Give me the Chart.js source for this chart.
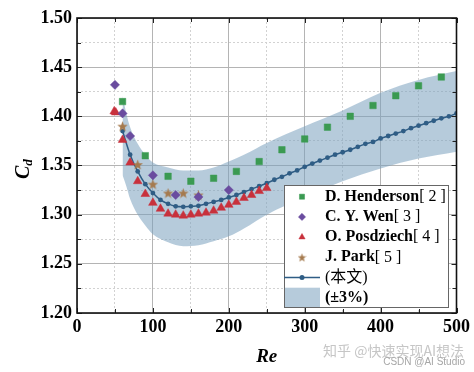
<!DOCTYPE html>
<html>
<head>
<meta charset="utf-8">
<script src="https://cdn.jsdelivr.net/npm/chart.js@4.4.1/dist/chart.umd.min.js"></script>
<style>
  html, body { margin: 0; padding: 0; background: #fff; }
</style>
</head>
<body>
<canvas id="cdChart" width="474" height="372"></canvas>
<script>
// D. Henderson [2]
const hendersonRe = [60, 90, 120, 150, 180, 210, 240, 270, 300, 330, 360, 390, 420, 450, 480];
const hendersonCd = [1.415, 1.360, 1.339, 1.334, 1.337, 1.344, 1.354, 1.366, 1.377, 1.389, 1.400, 1.411, 1.421, 1.431, 1.440];

// C. Y. Wen [3]
const wenRe = [50, 60, 70, 100, 130, 160, 200];
const wenCd = [1.432, 1.403, 1.380, 1.340, 1.320, 1.318, 1.325];

// O. Posdziech [4]
const posdziechRe = [49, 51, 60, 70, 80, 90, 100, 110, 120, 130, 140, 150, 160, 170, 180, 190, 200, 210, 220, 230, 240, 250];
const posdziechCd = [1.405, 1.404, 1.376, 1.353, 1.334, 1.321, 1.312, 1.306, 1.301, 1.300, 1.299, 1.300, 1.301, 1.302, 1.304, 1.307, 1.310, 1.313, 1.317, 1.320, 1.324, 1.327];

// J. Park [5]
const parkRe = [60, 80, 100, 120, 140, 160];
const parkCd = [1.390, 1.351, 1.331, 1.322, 1.322, 1.320];

// present work (本文)
const workRe = [60, 70, 80, 90, 100, 110, 120, 130, 140, 150, 160, 170, 180, 190, 200, 210, 220, 230, 240, 250,
                260, 270, 280, 290, 300, 310, 320, 330, 340, 350, 360, 370, 380, 390, 400, 410, 420, 430, 440, 450,
                460, 470, 480, 490, 500];
const workCd = [1.385, 1.361, 1.344, 1.331, 1.322, 1.315, 1.311, 1.3085, 1.308, 1.3085, 1.309, 1.311, 1.313, 1.315, 1.3175, 1.320, 1.323, 1.326, 1.329, 1.332,
                1.3355, 1.3385, 1.342, 1.345, 1.3487, 1.352, 1.355, 1.358, 1.361, 1.3635, 1.366, 1.369, 1.372, 1.374, 1.3775, 1.380, 1.3825, 1.385, 1.388, 1.3905,
                1.393, 1.3955, 1.398, 1.400, 1.403];

// ±3% band edges
const bandRe = [60, 65, 70, 80, 90, 100, 120, 140, 160, 180, 200, 220, 250, 300, 350, 400, 450, 500];
const bandUpper = [1.421, 1.403, 1.389, 1.372, 1.361, 1.353, 1.348, 1.345, 1.345, 1.348, 1.354, 1.361, 1.373, 1.390, 1.406, 1.424, 1.437, 1.446];
const bandLower = [1.340, 1.329, 1.316, 1.300, 1.289, 1.280, 1.272, 1.268, 1.269, 1.273, 1.278, 1.286, 1.300, 1.318, 1.334, 1.347, 1.357, 1.364];

// axes
const xMin = 0, xMax = 500, xStep = 50;
const yMin = 1.20, yMax = 1.50, yStep = 0.025;

const SERIF = '"Liberation Serif", "Times New Roman", "Noto Sans CJK SC", serif';
const GREEN = '#3b9a52', PURPLE = '#6a4c9f', RED = '#c8313c', BROWN = '#a57a4e', BLUE = '#2f5d85';
const BAND = 'rgba(122, 160, 190, 0.55)';

const pts = (xs, ys) => xs.map((x, i) => ({ x: x, y: ys[i] }));

// five-point star marker (Chart.js 'star' is an asterisk)
function makeStar(size, color) {
    const c = document.createElement('canvas');
    c.width = size; c.height = size;
    const g = c.getContext('2d');
    const r = size / 2, ri = r * 0.42;
    g.fillStyle = color;
    g.beginPath();
    for (let i = 0; i < 10; i++) {
        const rad = i % 2 ? ri : r;
        const a = -Math.PI / 2 + i * Math.PI / 5;
        g.lineTo(r + rad * Math.cos(a), r + rad * Math.sin(a) + 0.5);
    }
    g.closePath();
    g.fill();
    return c;
}
const starMark = makeStar(11, BROWN);
const starSmall = makeStar(9, BROWN);

const isMajorX = v => v % 100 === 0;
const isMajorY = v => Math.round(v * 1000) % 50 === 0;

// frame, inward ticks, axis titles
const framePlugin = {
    id: 'frame',
    afterDraw(chart) {
        const { ctx, chartArea: a, scales: { x, y } } = chart;
        ctx.save();
        ctx.strokeStyle = '#222';
        ctx.lineWidth = 1;
        ctx.beginPath();
        x.ticks.forEach(t => {
            const px = Math.round(x.getPixelForValue(t.value)) + 0.5;
            const len = isMajorX(t.value) ? 5 : 4;
            ctx.moveTo(px, a.bottom); ctx.lineTo(px, a.bottom - len);
            ctx.moveTo(px, a.top); ctx.lineTo(px, a.top + len);
        });
        y.ticks.forEach(t => {
            const py = Math.round(y.getPixelForValue(t.value)) + 0.5;
            const len = isMajorY(t.value) ? 5 : 4;
            ctx.moveTo(a.left, py); ctx.lineTo(a.left + len, py);
            ctx.moveTo(a.right, py); ctx.lineTo(a.right - len, py);
        });
        ctx.stroke();

        ctx.lineWidth = 1.6;
        ctx.strokeStyle = '#111';
        ctx.strokeRect(a.left, a.top, a.right - a.left, a.bottom - a.top);

        // x title
        ctx.fillStyle = '#000';
        ctx.font = 'italic bold 19px ' + SERIF;
        ctx.textAlign = 'center';
        ctx.textBaseline = 'middle';
        ctx.fillText('Re', (a.left + a.right) / 2, 357);

        // y title C_d
        ctx.translate(29, 172);
        ctx.rotate(-Math.PI / 2);
        ctx.textAlign = 'left';
        ctx.textBaseline = 'alphabetic';
        ctx.font = 'italic bold 20px ' + SERIF;
        ctx.fillText('C', -7, 0);
        const cw = ctx.measureText('C').width;
        ctx.font = 'italic bold 13px ' + SERIF;
        ctx.fillText('d', -7 + cw, 3);
        ctx.restore();
    }
};

// legend box inside the plot
const legendItems = [
    { bold: 'D. Henderson', tail: '[ 2 ]', kind: 'point', style: 'rect', color: GREEN },
    { bold: 'C. Y. Wen', tail: '[ 3 ]', kind: 'point', style: 'rectRot', color: PURPLE },
    { bold: 'O. Posdziech', tail: '[ 4 ]', kind: 'point', style: 'triangle', color: RED },
    { bold: 'J. Park', tail: '[ 5 ]', kind: 'point', style: starSmall, color: BROWN },
    { bold: '', tail: '(本文)', kind: 'line', color: BLUE },
    { bold: '(±3%)', tail: '', kind: 'band', color: BAND }
];

const legendPlugin = {
    id: 'boxLegend',
    afterDraw(chart) {
        const ctx = chart.ctx;
        const left = 284, top = 185, right = 448, bottom = 307;
        const rowH = 20.2, firstY = 196.7, markX = 302, textX = 325;
        ctx.save();
        ctx.fillStyle = '#fff';
        ctx.fillRect(left, top, right - left, bottom - top);
        ctx.strokeStyle = '#666';
        ctx.lineWidth = 1;
        ctx.strokeRect(left + 0.5, top + 0.5, right - left, bottom - top);

        legendItems.forEach((it, i) => {
            const cy = firstY + i * rowH;
            if (it.kind === 'point') {
                ctx.fillStyle = it.color;
                ctx.strokeStyle = it.color;
                ctx.lineWidth = 0.5;
                Chart.helpers.drawPoint(ctx, { pointStyle: it.style, radius: 3.6, rotation: 0, borderWidth: 0.5 }, markX, cy);
            } else if (it.kind === 'line') {
                ctx.strokeStyle = it.color;
                ctx.lineWidth = 1.5;
                ctx.beginPath();
                ctx.moveTo(left, cy); ctx.lineTo(320, cy);
                ctx.stroke();
                ctx.fillStyle = it.color;
                ctx.beginPath();
                ctx.arc(markX, cy, 2.5, 0, Math.PI * 2);
                ctx.fill();
            } else {
                ctx.fillStyle = it.color;
                ctx.fillRect(left + 1, cy - 10, 320 - left - 1, bottom - (cy - 10));
            }
            ctx.fillStyle = '#000';
            ctx.textAlign = 'left';
            ctx.textBaseline = 'middle';
            let tx = textX;
            if (it.bold) {
                ctx.font = 'bold 16px ' + SERIF;
                ctx.fillText(it.bold, tx, cy);
                tx += ctx.measureText(it.bold).width;
            }
            if (it.tail) {
                ctx.font = '16px ' + SERIF;
                ctx.fillText(it.tail, tx, cy);
            }
        });

        // source watermark
        ctx.textAlign = 'right';
        ctx.fillStyle = '#c6c6c6';
        ctx.font = '14px "Noto Sans CJK SC", sans-serif';
        ctx.fillText('知乎 @快速实现AI想法', 464, 351);
        ctx.fillStyle = '#a6a6a6';
        ctx.font = '10px "Liberation Sans", sans-serif';
        ctx.fillText('CSDN @AI Studio', 465, 362);
        ctx.restore();
    }
};

function renderCdChart() {
    const ctx = document.getElementById('cdChart').getContext('2d');

    new Chart(ctx, {
        type: 'line',
        data: {
            datasets: [
                {
                    label: 'D. Henderson[2]',
                    data: pts(hendersonRe, hendersonCd),
                    showLine: false,
                    pointStyle: 'rect',
                    pointRadius: 4.6,
                    pointBackgroundColor: GREEN,
                    pointBorderColor: GREEN,
                    pointBorderWidth: 0.5
                },
                {
                    label: 'C. Y. Wen[3]',
                    data: pts(wenRe, wenCd),
                    showLine: false,
                    pointStyle: 'rectRot',
                    pointRadius: 4.6,
                    pointBackgroundColor: PURPLE,
                    pointBorderColor: PURPLE,
                    pointBorderWidth: 0.5
                },
                {
                    label: 'O. Posdziech[4]',
                    data: pts(posdziechRe, posdziechCd),
                    showLine: false,
                    pointStyle: 'triangle',
                    pointRadius: 5,
                    pointBackgroundColor: RED,
                    pointBorderColor: RED,
                    pointBorderWidth: 0.5
                },
                {
                    label: 'J. Park[5]',
                    data: pts(parkRe, parkCd),
                    showLine: false,
                    pointStyle: starMark,
                    pointRadius: 5
                },
                {
                    label: '(本文)',
                    data: pts(workRe, workCd),
                    borderColor: BLUE,
                    borderWidth: 1.5,
                    pointRadius: 2.4,
                    pointBackgroundColor: BLUE,
                    pointBorderWidth: 0,
                    tension: 0.3
                },
                {
                    label: 'band upper',
                    data: pts(bandRe, bandUpper),
                    borderWidth: 0,
                    borderColor: 'rgba(0,0,0,0)',
                    pointRadius: 0,
                    cubicInterpolationMode: 'monotone',
                    fill: false
                },
                {
                    label: '(±3%)',
                    data: pts(bandRe, bandLower),
                    borderWidth: 0,
                    borderColor: 'rgba(0,0,0,0)',
                    backgroundColor: BAND,
                    pointRadius: 0,
                    cubicInterpolationMode: 'monotone',
                    fill: '-1'
                }
            ]
        },
        options: {
            responsive: false,
            animation: false,
            devicePixelRatio: 1,
            layout: { padding: { top: 18, right: 17, left: 0, bottom: 0 } },
            plugins: {
                legend: { display: false },
                tooltip: { enabled: false }
            },
            scales: {
                x: {
                    type: 'linear',
                    min: xMin,
                    max: xMax,
                    afterFit: s => { s.height = 59; },
                    grid: {
                        drawTicks: false,
                        lineWidth: 1,
                        color: c => c.tick && isMajorX(c.tick.value) ? '#b4b4b4' : '#d2d2d2'
                    },
                    border: {
                        display: false,
                        dash: c => c.tick && !isMajorX(c.tick.value) ? [2, 2] : []
                    },
                    ticks: {
                        stepSize: xStep,
                        padding: 4,
                        autoSkip: false,
                        maxRotation: 0,
                        color: '#000',
                        font: { family: SERIF, size: 18, weight: 'bold' },
                        callback: v => isMajorX(v) ? String(v) : ''
                    }
                },
                y: {
                    min: yMin,
                    max: yMax,
                    afterFit: s => { s.width = 77; },
                    grid: {
                        drawTicks: false,
                        lineWidth: 1,
                        color: c => c.tick && isMajorY(c.tick.value) ? '#b4b4b4' : '#d2d2d2'
                    },
                    border: {
                        display: false,
                        dash: c => c.tick && !isMajorY(c.tick.value) ? [2, 2] : []
                    },
                    ticks: {
                        stepSize: yStep,
                        padding: 5,
                        autoSkip: false,
                        color: '#000',
                        font: { family: SERIF, size: 18, weight: 'bold' },
                        callback: v => isMajorY(v) ? v.toFixed(2) : ''
                    }
                }
            }
        },
        plugins: [framePlugin, legendPlugin]
    });
}

document.addEventListener('DOMContentLoaded', renderCdChart);
</script>
</body>
</html>
